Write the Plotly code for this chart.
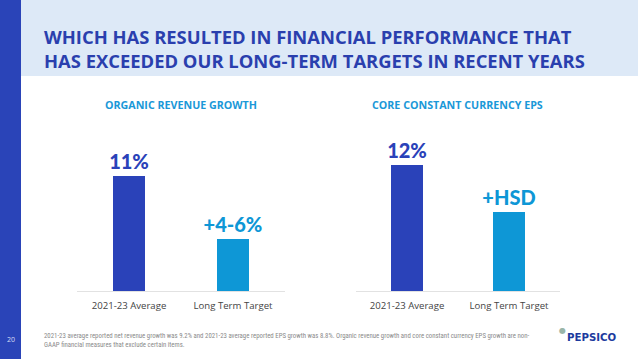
import plotly.graph_objects as go

W, H = 638, 359

categories = ["2021-23 Average", "Long Term Target"]
organic_values = [11, 5]
organic_labels = ["11%", "+4-6%"]
eps_values = [12, 7.5]
eps_labels = ["12%", "+HSD"]

title_lines = ["WHICH HAS RESULTED IN FINANCIAL PERFORMANCE THAT",
               "HAS EXCEEDED OUR LONG-TERM TARGETS IN RECENT YEARS"]
chart_titles = ["ORGANIC REVENUE GROWTH", "CORE CONSTANT CURRENCY EPS"]
footnote = ("2021-23 average reported net revenue growth was 9.2% and 2021-23 average reported EPS growth was 8.8%. "
            "Organic revenue growth and core constant currency EPS growth are non-<br>"
            "GAAP financial measures that exclude certain items.")

DARK = "#2a42b9"
LIGHT = "#0e97d6"
TITLE_BLUE = "#2a3fae"
FONT = "Open Sans"
COND = "Roboto Condensed"

def px(x):
    return x / W

def py(y):
    return 1 - y / H

fig = go.Figure()

bar_colors = [DARK, LIGHT]
for i, (vals, labs) in enumerate([(organic_values, organic_labels), (eps_values, eps_labels)]):
    fig.add_trace(go.Bar(
        x=categories, y=vals, text=labs, textposition="outside",
        textfont=dict(family="Lato", size=20, color=bar_colors, weight=900),
        constraintext="none",
        cliponaxis=False,
        marker=dict(color=bar_colors, line=dict(width=0)),
        width=0.31,
        xaxis="x" if i == 0 else "x2",
        yaxis="y" if i == 0 else "y2",
        showlegend=False, hoverinfo="skip",
    ))

base_y = 291
top_y = 120
ppu = 10.5
yr = [0, (base_y - top_y) / ppu]

axis_common = dict(
    showgrid=False, zeroline=False, showline=True, linecolor="#e2e2e2", linewidth=1,
    ticks="", tickfont=dict(family=FONT, size=9.6, color="#444444"), ticklabelstandoff=5,
    range=[-0.5, 1.5], fixedrange=True, automargin=False,
)
yaxis_common = dict(visible=False, range=yr, fixedrange=True, automargin=False,
                    domain=[py(base_y), py(top_y)])

fig.update_layout(
    width=W, height=H,
    margin=dict(l=0, r=0, t=0, b=0),
    paper_bgcolor="white", plot_bgcolor="rgba(0,0,0,0)",
    xaxis=dict(domain=[px(77), px(285)], anchor="y", **axis_common),
    yaxis=dict(anchor="x", **yaxis_common),
    xaxis2=dict(domain=[px(356), px(560)], anchor="y2", **axis_common),
    yaxis2=dict(anchor="x2", **yaxis_common),
    bargap=0,
)

shapes = [
    dict(type="rect", xref="paper", yref="paper", x0=px(21), x1=1, y0=py(76), y1=1,
         fillcolor="#dde9f7", line=dict(width=0), layer="below"),
    dict(type="rect", xref="paper", yref="paper", x0=0, x1=px(21), y0=0, y1=1,
         fillcolor="#2a44b8", line=dict(width=0), layer="below"),
]
fig.update_layout(shapes=shapes)

ann = []
ann.append(dict(text="<br>".join(title_lines), x=px(42), y=py(48.5), xref="paper", yref="paper",
                xanchor="left", yanchor="middle", align="left", showarrow=False,
                font=dict(family=FONT, size=18.4, color=TITLE_BLUE, weight=700)))
for t, cx in zip(chart_titles, [181, 457]):
    ann.append(dict(text="<b>" + t + "</b>", x=px(cx), y=py(105), xref="paper", yref="paper",
                    xanchor="center", yanchor="middle", showarrow=False,
                    font=dict(family=FONT, size=10.7, color="#1a98d8")))
ann.append(dict(text=footnote, x=px(42), y=py(340), xref="paper", yref="paper",
                xanchor="left", yanchor="middle", align="left", showarrow=False,
                font=dict(family=COND, size=6.8, color="#8a8a8a")))
ann.append(dict(text="20", x=px(10.5), y=py(339), xref="paper", yref="paper",
                xanchor="center", yanchor="middle", showarrow=False,
                font=dict(family=FONT, size=7, color="#d8def5")))
ann.append(dict(text="<b>PEPSICO</b>", x=px(591.5), y=py(337), xref="paper", yref="paper",
                xanchor="center", yanchor="middle", showarrow=False,
                font=dict(family="DejaVu Sans", size=10.2, color="#1c3a9e")))
ann.append(dict(text="●", x=px(562), y=py(330), xref="paper", yref="paper",
                xanchor="center", yanchor="middle", showarrow=False,
                font=dict(family="DejaVu Sans", size=8, color="#9ab5a8")))
fig.update_layout(annotations=ann)

fig.write_html("out.html", config={"displayModeBar": False},
               post_script="document.body.style.margin='0';document.body.style.padding='0';")
